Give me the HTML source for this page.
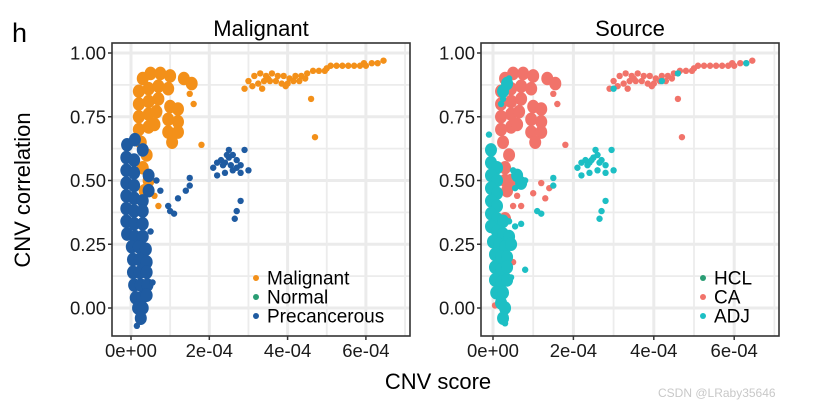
<!DOCTYPE html>
<html><head><meta charset="utf-8"><style>
html,body{margin:0;padding:0;background:#fff;}
svg{display:block;font-family:"Liberation Sans",Arial,sans-serif;}
</style></head><body>
<svg id="chart" width="815" height="408" viewBox="0 0 815 408" xmlns="http://www.w3.org/2000/svg">
<text x="12" y="42" font-size="27">h</text>
<text x="30" y="190" font-size="22" text-anchor="middle" transform="rotate(-90 30 190)">CNV correlation</text>
<text x="438" y="389" font-size="22" text-anchor="middle">CNV score</text>
<text x="658" y="397" font-size="12" fill="#c8c8c8">CSDN @LRaby35646</text>
<g id="panels"></g>
</svg>
<script>
// Values: x in units of 1e-4, y = CNV correlation
const xTicks=[0,2,4,6];
const xTickLabels=["0e+00","2e-04","4e-04","6e-04"];
const yTicks=[0,0.25,0.5,0.75,1];
const yTickLabels=["0.00","0.25","0.50","0.75","1.00"];
// dense cores (drawn as larger overlapping dots)
const malignantCore=[[0.3,0.9],[0.5,0.92],[0.75,0.92],[1.0,0.91],[1.35,0.9],[1.55,0.88],[0.2,0.85],[0.45,0.86],[0.7,0.87],[0.95,0.86],[0.2,0.8],[0.45,0.81],[0.7,0.82],[0.2,0.75],[0.45,0.76],[0.65,0.77],[0.2,0.7],[0.45,0.71],[0.6,0.72],[1.0,0.79],[1.2,0.78],[0.95,0.74],[1.2,0.73],[0.95,0.69],[1.2,0.69],[1.05,0.65],[0.25,0.65],[0.4,0.6],[0.3,0.55],[0.45,0.5],[0.35,0.46]];
const malignantPts=[[1.8,0.64],[4.6,0.82],[4.7,0.67],[1.5,0.84],[1.6,0.8],[0.7,0.4],[0.6,0.44],
[2.9,0.86],[3.0,0.89],[3.15,0.91],[3.3,0.92],[3.45,0.91],[3.6,0.92],[3.75,0.91],[3.9,0.91],[4.05,0.9],[4.2,0.91],[4.35,0.91],[4.5,0.92],[4.65,0.93],[4.8,0.93],[4.95,0.93],[5.1,0.95],[5.25,0.95],[5.4,0.95],[5.55,0.95],[5.7,0.95],[5.85,0.95],[6.0,0.95],[6.15,0.96],[6.3,0.96],[6.45,0.97],[3.1,0.87],[3.25,0.88],[3.4,0.89],[3.55,0.89],[3.7,0.89],[3.85,0.88],[4.0,0.88],[4.15,0.89],[4.3,0.89],[3.35,0.86],[3.95,0.87],[3.5,0.9],[4.45,0.9],[5.0,0.94],[5.95,0.96]];
const precancerousCore=[[-0.1,0.64],[0.1,0.66],[0.3,0.62],[-0.12,0.59],[0.08,0.58],[-0.12,0.54],[0.08,0.53],[0.45,0.52],[-0.12,0.49],[0.08,0.48],[0.45,0.46],[-0.12,0.44],[0.08,0.43],[0.3,0.42],[-0.12,0.39],[0.08,0.38],[0.3,0.38],[-0.12,0.34],[0.08,0.33],[0.3,0.33],[-0.1,0.29],[0.1,0.28],[0.3,0.28],[0.02,0.24],[0.2,0.24],[0.38,0.23],[0.05,0.19],[0.22,0.19],[0.4,0.18],[0.05,0.14],[0.22,0.14],[0.4,0.14],[0.08,0.09],[0.25,0.09],[0.42,0.09],[0.12,0.04],[0.28,0.04],[0.4,0.05],[0.18,0.0],[0.3,0.0],[0.25,-0.04]];
const precancerousPts=[[0.15,-0.07],[0.5,0.3],[0.55,0.1],
[2.1,0.55],[2.2,0.57],[2.3,0.58],[2.4,0.57],[2.5,0.59],[2.6,0.6],[2.7,0.58],[2.8,0.56],[2.9,0.62],[2.2,0.52],[2.4,0.53],[2.6,0.54],[2.8,0.53],[3.0,0.54],[2.5,0.62],[2.35,0.56],[2.55,0.56],[2.7,0.55],[2.45,0.6],
[1.5,0.51],[1.5,0.48],[1.4,0.46],[1.2,0.43],[1.1,0.37],[2.8,0.42],[2.7,0.38],[2.65,0.35],[0.95,0.4],[1.0,0.38],[0.75,0.46],[0.65,0.5]];
const caCore=malignantCore.concat([[0.3,0.35],[0.2,0.15],[0.3,0.5]]);
const caPts=malignantPts.concat([[1.4,0.47],[1.3,0.43],[1.2,0.49],[1.0,0.45],[0.05,0.01],[0.5,0.4],[0.5,0.18]]);
const adjCore=[[-0.05,0.62],[-0.05,0.57],[0.1,0.55],[-0.05,0.52],[0.1,0.5],[-0.05,0.47],[0.1,0.45],[-0.05,0.42],[0.1,0.4],[-0.05,0.37],[0.1,0.35],[0.25,0.34],[-0.05,0.32],[0.1,0.3],[0.25,0.29],[0.4,0.28],[0.0,0.26],[0.15,0.25],[0.3,0.24],[0.45,0.25],[0.05,0.21],[0.2,0.2],[0.35,0.2],[0.05,0.16],[0.2,0.15],[0.35,0.16],[0.05,0.11],[0.2,0.1],[0.35,0.11],[0.08,0.06],[0.25,0.06],[0.2,0.02],[0.3,0.0],[0.25,-0.04],[0.25,0.85],[0.35,0.88],[0.6,0.52],[0.7,0.49]];
const adjPts=[[-0.1,0.68],[0.4,0.34],[0.55,0.32],[0.45,0.12],[0.3,-0.06],[0.25,0.82],[0.2,0.8],[0.4,0.9],[0.5,0.54],[0.8,0.5],[0.55,0.47],[0.7,0.33],[0.8,0.15],
[2.1,0.55],[2.2,0.57],[2.3,0.58],[2.4,0.57],[2.5,0.59],[2.6,0.6],[2.7,0.58],[2.8,0.56],[2.95,0.62],[2.2,0.52],[2.4,0.53],[2.6,0.54],[2.8,0.53],[3.0,0.54],[2.55,0.62],[2.35,0.56],[2.45,0.58],[2.65,0.57],
[1.5,0.51],[1.5,0.48],[1.1,0.38],[1.2,0.37],[2.8,0.42],[2.7,0.38],[2.65,0.35],
[3.0,0.86],[4.2,0.89],[4.6,0.92],[6.3,0.96]];
const leftLegend=["Malignant","Normal","Precancerous"];
const leftColors=["#F39019","#2A9D74","#1F5BA1"];
const rightLegend=["HCL","CA","ADJ"];
const rightColors=["#2A9D74","#F1736A","#1DBFC4"];

const NS="http://www.w3.org/2000/svg";
const root=document.getElementById('panels');
function mk(tag,attrs,parent){const e=document.createElementNS(NS,tag);for(const k in attrs)e.setAttribute(k,attrs[k]);(parent||root).appendChild(e);return e;}
const yScale=v=>308-v*255;
function panel(cfg){
  const g=mk('g',{});
  
  
  const xs=v=>cfg.x0+v*cfg.k;
  for(let i=-1;i<=4;i++){const v=i*0.25+0.125;const y=yScale(v);if(y>cfg.top&&y<336)mk('line',{x1:cfg.left,x2:cfg.right,y1:y,y2:y,stroke:'#ececec','stroke-width':1.8},g);}
  yTicks.forEach(v=>{mk('line',{x1:cfg.left,x2:cfg.right,y1:yScale(v),y2:yScale(v),stroke:'#ebebeb','stroke-width':3},g);});
  for(let v=1;v<=7;v+=2){const x=xs(v);if(x<cfg.right)mk('line',{x1:x,x2:x,y1:cfg.top,y2:336,stroke:'#ececec','stroke-width':1.8},g);}
  xTicks.forEach(v=>{mk('line',{x1:xs(v),x2:xs(v),y1:cfg.top,y2:336,stroke:'#ebebeb','stroke-width':3},g);});
  cfg.series.forEach(s=>{
    const sg=mk('g',{fill:s.color},g);
    
    
    s.core.forEach(p=>{const c=mk('ellipse',{cx:xs(p[0]),cy:yScale(p[1]),rx:6,ry:6.8},sg);
      
      });
    s.data.forEach(p=>{const c=mk('circle',{cx:xs(p[0]),cy:yScale(p[1]),r:3.2},sg);
      
      });
  });
  const fr=mk('rect',{x:cfg.left,y:cfg.top,width:cfg.right-cfg.left,height:336-cfg.top,fill:'none',stroke:'#333','stroke-width':1.6},g);
  
  
  yTicks.forEach((v,i)=>{mk('line',{x1:cfg.left-4,x2:cfg.left,y1:yScale(v),y2:yScale(v),stroke:'#333','stroke-width':1.5},g);
    const t=mk('text',{x:cfg.left-6,y:yScale(v)+6.5,'font-size':18.5,'text-anchor':'end',fill:'#1a1a1a'},g);t.textContent=yTickLabels[i];
    
    });
  xTicks.forEach((v,i)=>{mk('line',{x1:xs(v),x2:xs(v),y1:336,y2:340,stroke:'#333','stroke-width':1.5},g);
    const t=mk('text',{x:xs(v),y:357,'font-size':18.5,'text-anchor':'middle',fill:'#1a1a1a'},g);t.textContent=xTickLabels[i];
    
    });
  const tt=mk('text',{x:(cfg.left+cfg.right)/2,y:36,'font-size':22,'text-anchor':'middle'},g);tt.textContent=cfg.title;
  
  
  cfg.legend.forEach((lab,i)=>{
    const lg=mk('g',{},g);
    
    
    mk('circle',{cx:cfg.legX,cy:278+i*19,r:3,fill:cfg.legColors[i]},lg);
    const t=mk('text',{x:cfg.legX+11,y:284.5+i*19,'font-size':19},lg);t.textContent=lab;
  });
}
panel({name:'malignant-panel',title:'Malignant',left:112,right:410,top:43,x0:131,k:39.15,
  series:[{name:'malignant',color:leftColors[0],core:malignantCore,data:malignantPts},{name:'precancerous',color:leftColors[2],core:precancerousCore,data:precancerousPts}],
  legend:leftLegend,legColors:leftColors,legX:256});
panel({name:'source-panel',title:'Source',left:481,right:779,top:43,x0:493,k:40.2,
  series:[{name:'ca',color:rightColors[1],core:caCore,data:caPts},{name:'adj',color:rightColors[2],core:adjCore,data:adjPts}],
  legend:rightLegend,legColors:rightColors,legX:703});
</script>
</body></html>
